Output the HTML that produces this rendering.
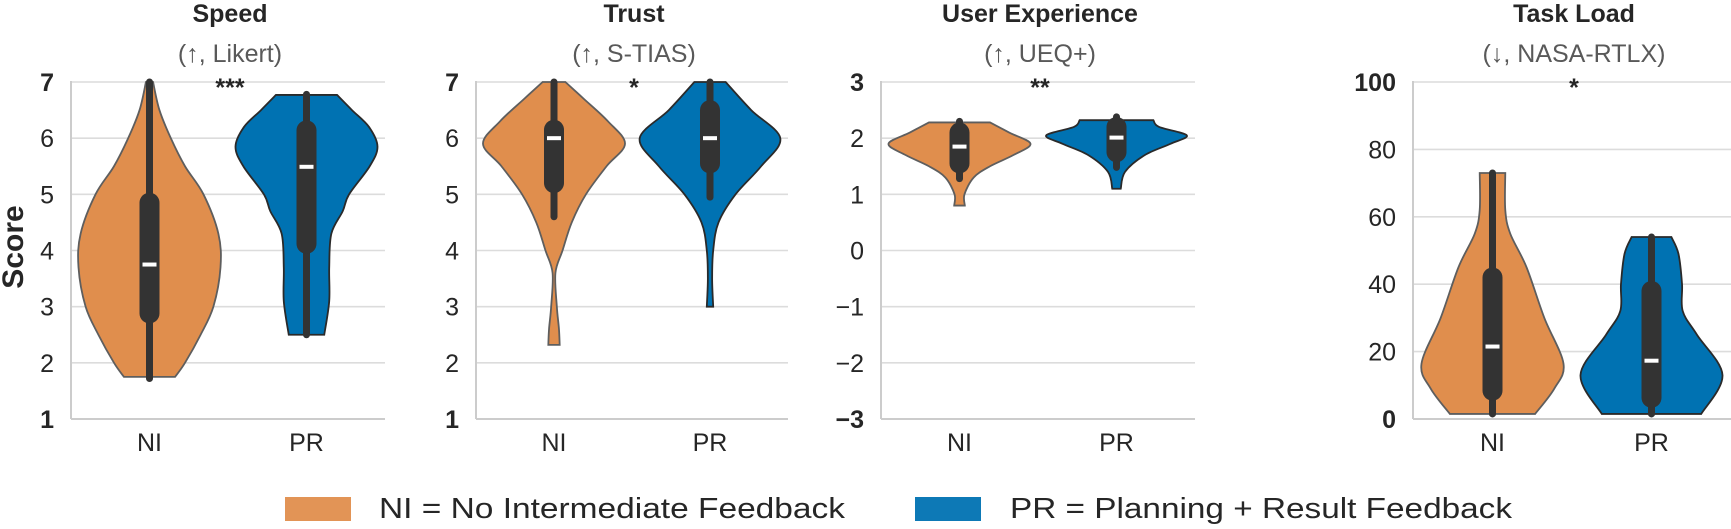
<!DOCTYPE html>
<html><head><meta charset="utf-8"><style>
html,body{margin:0;padding:0;background:#fff}
svg{display:block;font-family:"Liberation Sans",Arial,sans-serif}
</style></head><body>
<svg id="chart" width="1731" height="529" viewBox="0 0 1731 529" xmlns="http://www.w3.org/2000/svg">
<g id="root"></g>
</svg>
<script>
// ---------- data ----------
const groups = ["NI", "PR"];
const panelTitles = ["Speed", "Trust", "User Experience", "Task Load"];
const panelSubtitles = ["(↑, Likert)", "(↑, S-TIAS)", "(↑, UEQ+)", "(↓, NASA-RTLX)"];
const significance = ["***", "*", "**", "*"];
const yMins = [1, 1, -3, 0];
const yMaxs = [7, 7, 3, 100];
const tickLabels0 = [1, 2, 3, 4, 5, 6, 7];
const tickLabels1 = [1, 2, 3, 4, 5, 6, 7];
const tickLabels2 = [-3, -2, -1, 0, 1, 2, 3];
const tickLabels3 = [0, 20, 40, 60, 80, 100];
// violin density profiles: values (y) and relative widths
const speedNIy = [1.75, 2.0, 2.5, 3.0, 3.7, 4.3, 5.0, 5.5, 6.0, 6.5, 7.0];
const speedNIw = [0.36, 0.5, 0.72, 0.9, 1.0, 0.97, 0.76, 0.5, 0.3, 0.14, 0.05];
const speedPRy = [2.5, 3.1, 3.7, 4.3, 4.7, 5.0, 5.5, 5.85, 6.2, 6.5, 6.77];
const speedPRw = [0.25, 0.32, 0.32, 0.35, 0.51, 0.6, 0.89, 1.0, 0.88, 0.64, 0.43];
const trustNIy = [2.32, 2.6, 3.0, 3.6, 4.0, 4.5, 5.0, 5.5, 5.9, 6.3, 6.7, 7.0];
const trustNIw = [0.08, 0.07, 0.04, 0.02, 0.12, 0.25, 0.45, 0.74, 1.0, 0.76, 0.42, 0.16];
const trustPRy = [3.0, 3.5, 4.0, 4.5, 5.0, 5.5, 6.0, 6.5, 7.0];
const trustPRw = [0.045, 0.03, 0.045, 0.12, 0.36, 0.72, 0.99, 0.58, 0.22];
const uxNIy = [0.8, 1.0, 1.3, 1.5, 1.7, 1.9, 2.1, 2.28];
const uxNIw = [0.075, 0.07, 0.2, 0.43, 0.76, 1.0, 0.7, 0.43];
const uxPRy = [1.1, 1.4, 1.7, 1.9, 2.05, 2.2, 2.32];
const uxPRw = [0.06, 0.12, 0.4, 0.76, 0.99, 0.6, 0.52];
const taskNIy = [1.5, 9, 16.4, 30, 45, 55, 62, 73];
const taskNIw = [0.6, 0.87, 1.0, 0.73, 0.48, 0.25, 0.18, 0.18];
const taskPRy = [1.5, 13, 25, 32, 40, 49, 54];
const taskPRw = [0.7, 1.0, 0.64, 0.44, 0.43, 0.38, 0.28];
// box stats: [whiskerLow, q1, median, q3, whiskerHigh]
const speedNIbox = [1.72, 2.88, 3.75, 4.85, 7.0];
const speedPRbox = [2.5, 4.12, 5.49, 6.14, 6.78];
const trustNIbox = [4.6, 5.2, 6.0, 6.15, 7.0];
const trustPRbox = [4.95, 5.55, 6.0, 6.5, 7.0];
const uxNIbox = [1.28, 1.55, 1.85, 2.1, 2.3];
const uxPRbox = [1.48, 1.75, 2.01, 2.2, 2.38];
const taskNIbox = [1.5, 8.4, 21.5, 42, 73];
const taskPRbox = [1.5, 6.3, 17.3, 38, 54];

// ---------- layout ----------
const NS = "http://www.w3.org/2000/svg";
const root = document.getElementById("root");
const panelLeft = [71, 476, 881, 1413];
const panelRight = [385, 788, 1195, 1731];
const topY = 82, botY = 419;
const maxHalf = 71;
const colors = ["#e08e4d", "#0072b2"];
const edgeColors = ["#5e5e5e", "#2a2a2a"];
const tickSets = [tickLabels0, tickLabels1, tickLabels2, tickLabels3];
const violinY = [[speedNIy, speedPRy], [trustNIy, trustPRy], [uxNIy, uxPRy], [taskNIy, taskPRy]];
const violinW = [[speedNIw, speedPRw], [trustNIw, trustPRw], [uxNIw, uxPRw], [taskNIw, taskPRw]];
const boxes = [[speedNIbox, speedPRbox], [trustNIbox, trustPRbox], [uxNIbox, uxPRbox], [taskNIbox, taskPRbox]];
const panelKeys = ["speed", "trust", "user-experience", "task-load"];

function mk(tag, attrs, parent) {
  const e = document.createElementNS(NS, tag);
  for (const k in attrs) e.setAttribute(k, attrs[k]);
  (parent || root).appendChild(e);
  return e;
}
function smoothPath(pts) {
  // Catmull-Rom to bezier through points
  let d = "M" + pts[0][0] + "," + pts[0][1];
  for (let i = 0; i < pts.length - 1; i++) {
    const p0 = pts[Math.max(0, i - 1)], p1 = pts[i], p2 = pts[i + 1], p3 = pts[Math.min(pts.length - 1, i + 2)];
    const c1 = [p1[0] + (p2[0] - p0[0]) / 6, p1[1] + (p2[1] - p0[1]) / 6];
    const c2 = [p2[0] - (p3[0] - p1[0]) / 6, p2[1] - (p3[1] - p1[1]) / 6];
    d += " C" + c1[0] + "," + c1[1] + " " + c2[0] + "," + c2[1] + " " + p2[0] + "," + p2[1];
  }
  return d;
}

for (let p = 0; p < 4; p++) {
  const L = panelLeft[p], R = panelRight[p];
  const yMin = yMins[p], yMax = yMaxs[p];
  const ys = v => botY - (v - yMin) / (yMax - yMin) * (botY - topY);
  const band = (R - L) / 2;
  const xs = i => L + band * (i + 0.5);
  const g = mk("g", {});
  
  
  // grid + ticks
  const ticks = tickSets[p];
  ticks.forEach((t, i) => {
    const y = ys(t);
    const gl = mk("line", {x1: L, x2: R, y1: y, y2: y, stroke: "#dcdcdc", "stroke-width": 1.6}, g);
    
    
    const bold = (i === 0 || i === ticks.length - 1);
    const tl = mk("text", {x: L - 17, y: y + 9, "text-anchor": "end", "font-size": 25, fill: "#262626", "font-weight": bold ? "bold" : "normal"}, g);
    tl.textContent = t < 0 ? "−" + Math.abs(t) : String(t);
    
    
  });
  const sp = mk("line", {x1: L, x2: L, y1: topY - 1, y2: botY, stroke: "#cccccc", "stroke-width": 2}, g);
  
  
  const sb = mk("line", {x1: L, x2: R, y1: botY, y2: botY, stroke: "#cccccc", "stroke-width": 2}, g);
  
  
  // violins
  for (let k = 0; k < 2; k++) {
    const cx = xs(k);
    const vy = violinY[p][k], vw = violinW[p][k];
    const right = vy.map((v, i) => [cx + vw[i] * maxHalf, ys(v)]);
    const leftPts = vy.map((v, i) => [cx - vw[i] * maxHalf, ys(v)]).reverse();
    let d = smoothPath(right);
    const lp = smoothPath(leftPts).replace(/^M/, " L");
    d += lp + " Z";
    const vi = mk("path", {d: d, fill: colors[k], stroke: edgeColors[k], "stroke-width": 1.8}, g);
    
    
    const b = boxes[p][k];
    const wh = mk("line", {x1: cx, x2: cx, y1: ys(b[0]), y2: ys(b[4]), stroke: "#333", "stroke-width": 7, "stroke-linecap": "round"}, g);
    
    
    const bx = mk("line", {x1: cx, x2: cx, y1: ys(b[1]), y2: ys(b[3]), stroke: "#333", "stroke-width": 20, "stroke-linecap": "round"}, g);
    
    
    const md = mk("rect", {x: cx - 7, y: ys(b[2]) - 2, width: 14, height: 4, fill: "#fff"}, g);
    
    
    const xl = mk("text", {x: cx, y: 451, "text-anchor": "middle", "font-size": 25, fill: "#262626"}, g);
    xl.textContent = groups[k];
    
    
  }
  const mid = (L + R) / 2 + 2;
  const ti = mk("text", {x: mid, y: 22, "text-anchor": "middle", "font-size": 25, "font-weight": "bold", fill: "#262626"}, g);
  ti.textContent = panelTitles[p];
  
  
  const st = mk("text", {x: mid, y: 62, "text-anchor": "middle", "font-size": 25, fill: "#595959"}, g);
  st.textContent = panelSubtitles[p];
  
  
  const sg = mk("text", {x: mid, y: 96, "text-anchor": "middle", "font-size": 25, "font-weight": "bold", fill: "#262626"}, g);
  sg.textContent = significance[p];
  
  
}
const yt = mk("text", {x: 0, y: 0, transform: "translate(23,247) rotate(-90)", "text-anchor": "middle", "font-size": 30, "font-weight": "bold", fill: "#262626"});
yt.textContent = "Score";


// legend
const legendLabels = ["NI = No Intermediate Feedback", "PR = Planning + Result Feedback"];
const legendX = [285, 915];
const legendTextX = [379, 1010];
const legendTextW = [466, 502];
const lg = mk("g", {});


for (let k = 0; k < 2; k++) {
  const r = mk("rect", {x: legendX[k], y: 497, width: 66, height: 24, fill: colors[k], opacity: 0.95}, lg);
  
  
  const t = mk("text", {x: legendTextX[k], y: 518, "font-size": 29, fill: "#262626", textLength: legendTextW[k], lengthAdjust: "spacingAndGlyphs"}, lg);
  t.textContent = legendLabels[k];
  
  
}
</script>
</body></html>
